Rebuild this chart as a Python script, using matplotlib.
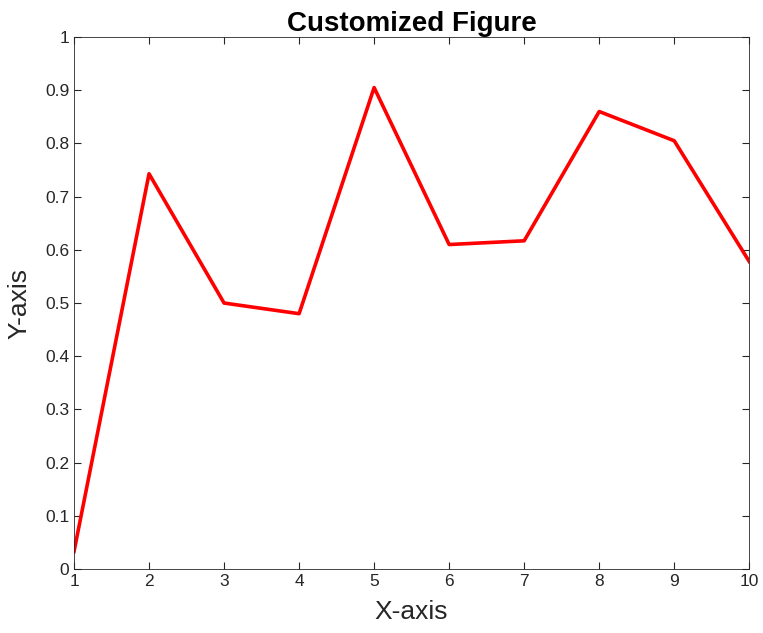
import matplotlib
matplotlib.use("Agg")
import matplotlib.pyplot as plt

plt.rcParams['font.family'] = ['Liberation Sans', 'DejaVu Sans']
x = [1, 2, 3, 4, 5, 6, 7, 8, 9, 10]
y = [0.033, 0.743, 0.500, 0.480, 0.905, 0.610, 0.617, 0.860, 0.805, 0.578]

fig = plt.figure(figsize=(7.63, 6.33), dpi=100)
ax = fig.add_axes([0.097, 0.101, 0.885, 0.8405])
ax.plot(x, y, color='red', linewidth=2.6)
ax.set_xlim(1, 10)
ax.set_ylim(0, 1)
ax.set_xticks(range(1, 11))
ax.set_yticks([i / 10 for i in range(11)])
ax.set_yticklabels(['0', '0.1', '0.2', '0.3', '0.4', '0.5', '0.6', '0.7', '0.8', '0.9', '1'])
ax.tick_params(direction='in', top=True, right=True, labelsize=12.5, colors='#262626', length=5)
for s in ax.spines.values():
    s.set_color('#262626')
    s.set_linewidth(0.6)
ax.set_xlabel('X-axis', fontsize=19, color='#262626', labelpad=8)
ax.set_ylabel('Y-axis', fontsize=19, color='#262626', labelpad=10)
ax.set_title('Customized Figure', fontsize=20, fontweight='bold', pad=4)
fig.savefig('out.png', dpi=100)
